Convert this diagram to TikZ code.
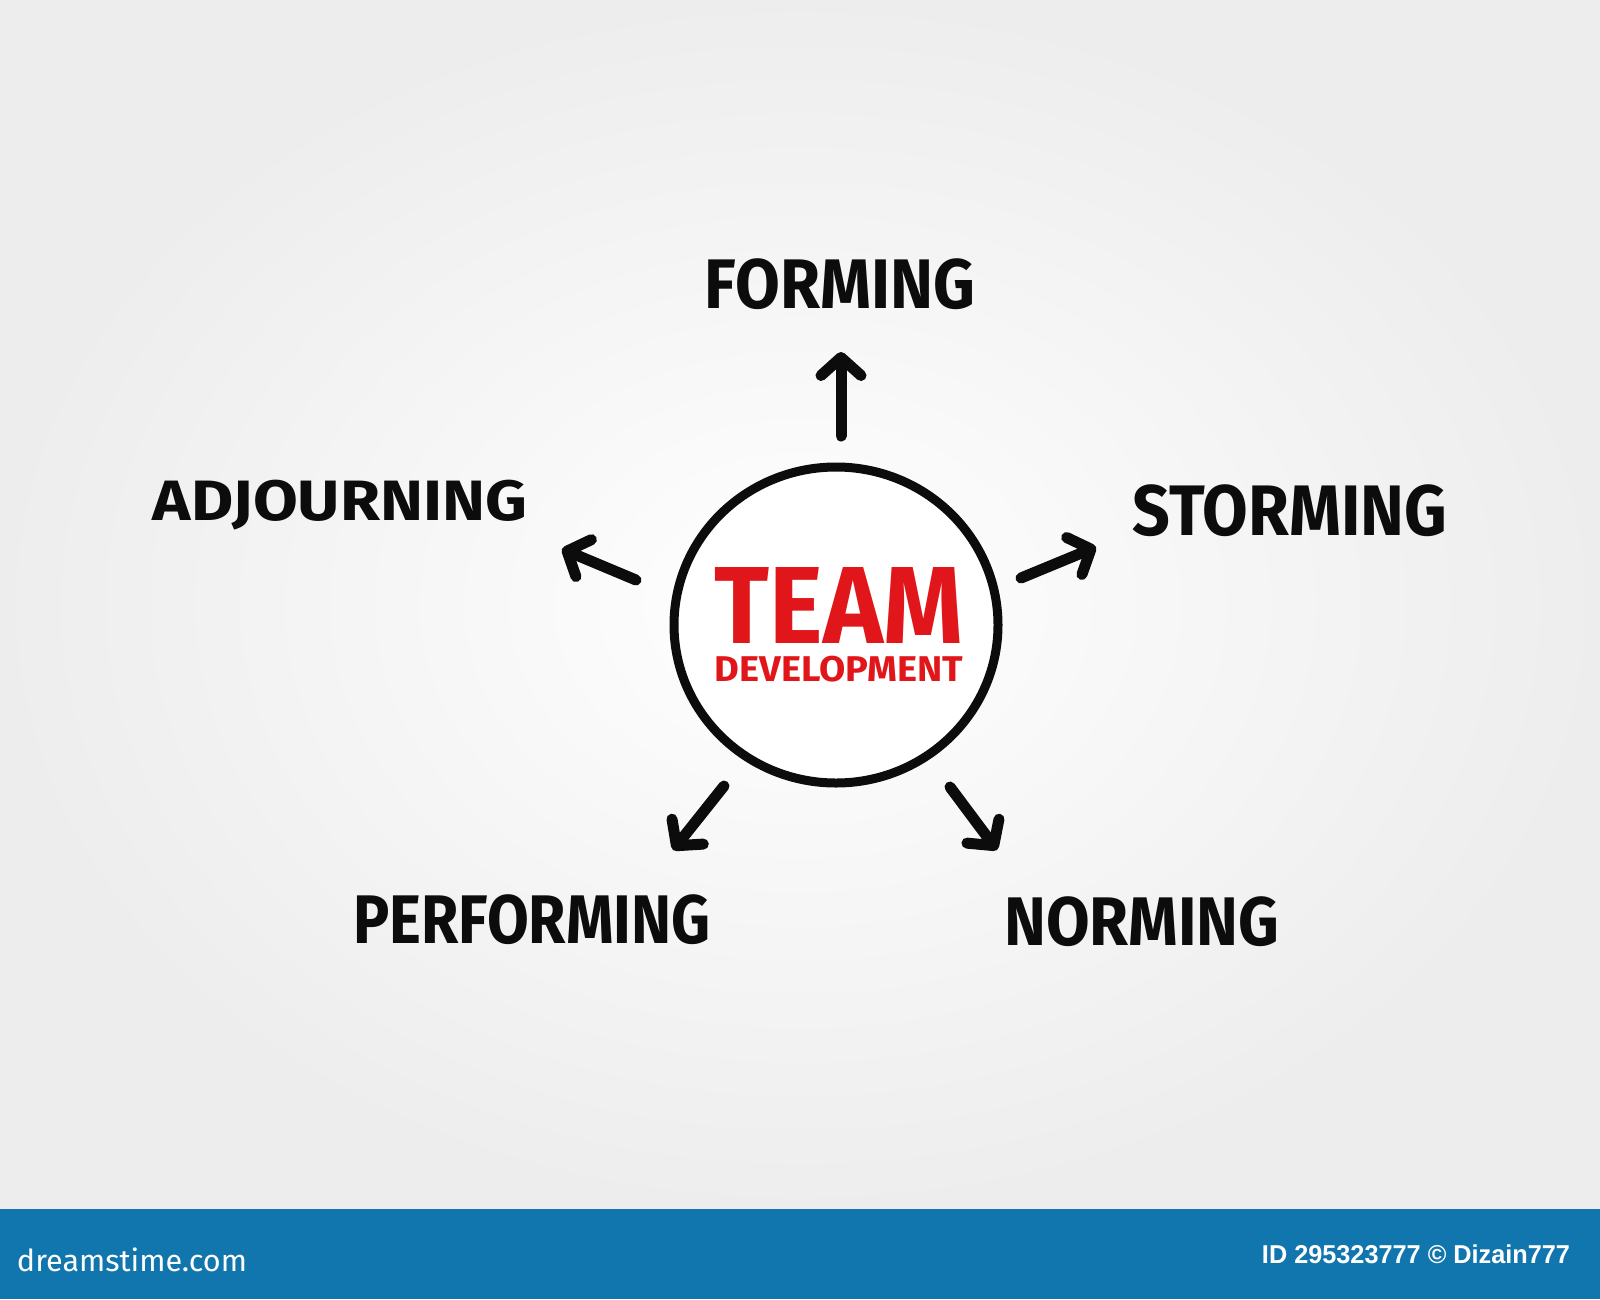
\documentclass[tikz,border=0pt]{standalone}
\usepackage{fontspec}
\usepackage{graphicx}
\setmainfont{Fira Sans}
\newfontfamily\idfont{Liberation Sans}
\usetikzlibrary{arrows.meta,shapes.geometric}
\definecolor{teamred}{RGB}{225,22,26}
\definecolor{barblue}{RGB}{18,118,174}
\definecolor{ink}{RGB}{12,12,12}
\newcommand\fitbox[3]{\resizebox*{#1pt}{#2pt}{#3}}
\tikzset{
  stage/.style={inner sep=0pt, text=ink, font=\bfseries},
  link/.style={draw=ink, line width=11pt, line cap=round,
    -{Straight Barb[length=18pt, width=40pt, line cap=round, line join=round]}},
  hub/.style={ellipse, draw=ink, line width=9pt, fill=white,
    minimum width=324pt, minimum height=316pt, inner sep=0pt},
}
\begin{document}
\begin{tikzpicture}[x=1pt, y=-1pt]
\useasboundingbox (0,0) rectangle (1600,1299);
% background
\shade[inner color=white, outer color=black!7] (0,0) rectangle (1600,1209);
\fill[barblue] (0,1209) rectangle (1600,1299);

% hub
\node[hub] (hub) at (836,625) {};
\node[inner sep=0pt, text=teamred, font=\bfseries, align=center] (title) at (839,625)
  {\fitbox{248}{76}{TEAM}\\[12pt]\fitbox{248}{26}{DEVELOPMENT}};

% stages
\node[stage] (forming) at (840,284) {\fitbox{270}{51}{FORMING}};
\node[stage] (storming) at (1290,511) {\fitbox{314}{52}{STORMING}};
\node[stage] (adjourning) at (340,505) {\fitbox{374}{50}{ADJOURNING}};
\node[stage] (performing) at (532,920) {\fitbox{357}{50}{PERFORMING}};
\node[stage] (norming) at (1142,922) {\fitbox{275}{50}{NORMING}};

% arrow ends
\coordinate (fs) at (841,436);  \coordinate (fe) at (841,352);
\coordinate (ss) at (1021,578); \coordinate (se) at (1096,547);
\coordinate (as) at (636,580);  \coordinate (ae) at (562,549);
\coordinate (ps) at (724,786);  \coordinate (pe) at (673,850);
\coordinate (ns) at (950,787);  \coordinate (ne) at (997,850);

\draw[link] (fs) -- (fe);
\draw[link] (ss) -- (se);
\draw[link] (as) -- (ae);
\draw[link] (ps) -- (pe);
\draw[link] (ns) -- (ne);

% footer
\node[inner sep=0pt, text=white] (brand) at (132,1260) {\fitbox{230}{24}{dreamstime.com}};
\node[inner sep=0pt, text=white, font=\idfont\bfseries] (credit) at (1416,1254) {\fitbox{308}{19}{ID 295323777 © Dizain777}};
\end{tikzpicture}
\end{document}
